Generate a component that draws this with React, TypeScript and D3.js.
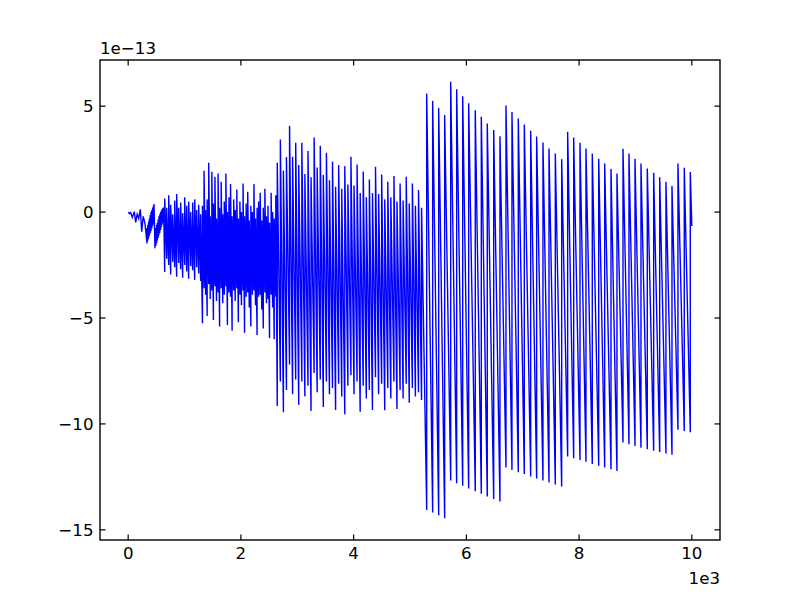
import React, { useEffect } from 'react';
import * as d3 from 'd3';

// x in units of 1e3, y in units of 1e-13
const startX = [0, 0.023, 0.044, 0.073, 0.108, 0.133, 0.160, 0.186, 0.215, 0.240, 0.266, 0.298];
const startY = [0, -0.08, -0.02, -0.25, 0.02, -0.49, -0.10, -0.30, 0.13, -0.93, -0.20, -0.53];

const region0X = [0.334, 0.348, 0.362, 0.376, 0.390, 0.405, 0.419, 0.433, 0.447, 0.458, 0.475, 0.490, 0.504, 0.518, 0.532, 0.546, 0.561, 0.575, 0.589, 0.603, 0.617, 0.630, 0.648, 0.683, 0.719, 0.754, 0.790, 0.825, 0.860, 0.896, 0.931, 0.967, 1.002, 1.038, 1.073, 1.109, 1.144, 1.180, 1.215, 1.251, 1.286];
const region0Hi = [-0.75, -0.6, -0.45, -0.3, -0.15, 0, 0.1, 0.2, 0.3, 0.38, -0.9, -0.75, -0.6, -0.5, -0.35, -0.2, -0.1, 0, 0.08, 0.15, 0.2, 0.22, 0.64, 0.2, 0.8, 0.35, -0.1, 0.55, 0.85, 0.2, 0.45, -0.05, 0.7, 0.3, 0.5, 0.0, 0.45, 0.6, 0.1, 0.35, -0.1];
const region0Lo = [-1.48, -1.35, -1.25, -1.12, -1.0, -0.9, -0.78, -0.66, -0.55, -0.45, -1.71, -1.6, -1.48, -1.35, -1.22, -1.1, -0.98, -0.85, -0.72, -0.6, -0.5, -0.4, -2.83, -2.2, -2.5, -2.95, -2.35, -2.6, -3.05, -2.4, -2.7, -3.1, -2.5, -2.8, -3.15, -2.55, -2.75, -3.2, -2.6, -2.9, -3.25];

const region1X = [1.318, 1.346, 1.374, 1.401, 1.429, 1.456, 1.484, 1.512, 1.539, 1.567, 1.595, 1.622, 1.650, 1.678, 1.705, 1.733, 1.761, 1.788, 1.816, 1.844, 1.872, 1.899, 1.927, 1.955, 1.982, 2.010, 2.038, 2.065, 2.093, 2.121, 2.148, 2.176, 2.204, 2.231, 2.259, 2.287, 2.314, 2.342, 2.370, 2.397, 2.425, 2.453, 2.480, 2.508, 2.536, 2.563, 2.591, 2.619];
const region1Hi = [0.3, 1.95, 0.1, 0.6, 2.33, -0.2, 1.9, 0.4, 1.67, -0.3, 1.82, 0.2, 1.43, -0.1, 0.5, 1.82, 0.0, 0.7, 1.32, -0.2, 0.6, 0.1, 1.07, -0.3, 0.5, 0.0, 1.35, -0.2, 0.4, 0.96, -0.4, 0.3, 0.0, 1.32, -0.3, 0.2, 0.5, 0.91, -0.4, 0.2, 1.1, -0.2, 0.3, -0.5, 0.91, 0.0, -0.3, 0.8];
const region1Lo = [-5.25, -3.6, -3.9, -4.9, -3.4, -4.1, -3.7, -5.09, -3.5, -4.2, -3.8, -5.4, -3.6, -4.3, -3.9, -3.5, -5.33, -3.8, -4.0, -5.6, -3.7, -4.2, -3.6, -5.2, -3.9, -4.4, -3.7, -5.7, -4.0, -3.8, -4.5, -5.4, -3.9, -3.7, -4.4, -5.8, -4.0, -3.9, -4.6, -5.5, -3.8, -4.3, -4.1, -5.95, -3.9, -4.5, -6.0, -4.0];

const region2X = [2.645, 2.700, 2.754, 2.808, 2.863, 2.917, 2.972, 3.026, 3.081, 3.135, 3.190, 3.244, 3.299, 3.353, 3.408, 3.462, 3.517, 3.571, 3.625, 3.680, 3.734, 3.789, 3.843, 3.898, 3.952, 4.007, 4.061, 4.116, 4.170, 4.225, 4.279, 4.334, 4.388, 4.443, 4.497, 4.552, 4.606, 4.660, 4.715, 4.769, 4.824, 4.878, 4.933, 4.987, 5.042, 5.096, 5.151, 5.205];
const region2Hi = [2.33, 3.43, 1.95, 2.6, 4.07, 2.61, 3.27, 2.22, 3.27, 1.8, 2.88, 1.64, 3.52, 2.11, 3.13, 1.75, 2.80, 1.5, 2.38, 1.2, 2.22, 1.1, 2.17, 1.3, 2.61, 1.25, 2.25, 0.9, 1.91, 0.7, 1.54, 0.9, 2.14, 0.85, 1.78, 0.6, 1.43, 0.7, 1.70, 0.5, 1.35, 0.55, 1.67, 0.4, 1.35, 0.3, 1.04, 0.2];
const region2Lo = [-9.15, -8.0, -9.45, -8.4, -7.2, -8.6, -7.9, -9.1, -8.0, -8.7, -8.2, -9.39, -7.6, -8.5, -7.9, -9.2, -8.0, -8.6, -8.3, -9.34, -8.1, -8.7, -9.54, -8.2, -7.7, -8.6, -8.0, -9.42, -8.2, -8.8, -8.4, -9.34, -7.8, -8.6, -8.1, -9.35, -8.3, -8.8, -8.0, -9.3, -8.4, -8.8, -8.1, -9.0, -8.3, -8.7, -8.5, -8.87];

const region3X = [5.296, 5.402, 5.509, 5.615, 5.722, 5.828, 5.935, 6.041, 6.158, 6.265, 6.371, 6.485, 6.596, 6.703, 6.809, 6.921, 7.028, 7.141, 7.247, 7.359, 7.466, 7.578, 7.691, 7.797, 7.904, 8.016, 8.122, 8.234, 8.348, 8.454, 8.566, 8.672, 8.779, 8.885, 8.992, 9.098, 9.210, 9.323, 9.430, 9.541, 9.648, 9.754, 9.866, 9.973];
const region3Hi = [5.60, 5.25, 4.91, 4.58, 6.15, 5.80, 5.47, 5.14, 4.81, 4.50, 4.18, 3.87, 3.58, 5.03, 4.72, 4.42, 4.14, 3.84, 3.57, 3.29, 3.00, 2.77, 2.50, 3.79, 3.52, 3.27, 3.00, 2.77, 2.52, 2.29, 2.04, 1.82, 2.99, 2.77, 2.52, 2.29, 2.06, 1.86, 1.64, 1.43, 1.23, 2.29, 2.09, 1.89];
const region3Lo = [-14.06, -14.18, -14.31, -14.45, -12.67, -12.80, -12.92, -13.05, -13.18, -13.30, -13.43, -13.55, -13.66, -12.06, -12.17, -12.28, -12.37, -12.48, -12.58, -12.67, -12.77, -12.86, -12.96, -11.54, -11.62, -11.70, -11.79, -11.89, -11.98, -12.06, -12.14, -12.22, -10.88, -10.96, -11.04, -11.12, -11.19, -11.27, -11.33, -11.40, -11.46, -10.28, -10.33, -10.39];

const endX = [10.0];
const endY = [-0.66];

const xTicks = [0, 2, 4, 6, 8, 10];
const yTicks = [-15, -10, -5, 0, 5];
const xOffsetLabel = '1e3';
const yOffsetLabel = '1e\u221213';

const fmt = (v: number) => (v < 0 ? '\u2212' + Math.abs(v) : String(v));

export default function App() {
  useEffect(() => {
    document.body.style.margin = '0';
  }, []);

  const W = 800, H = 600;
  const L = 100, R = 720, T = 60, B = 540;

  const pts: [number, number][] = [];
  startX.forEach((x, i) => pts.push([x, startY[i]]));
  const regions = [
    [region0X, region0Hi, region0Lo],
    [region1X, region1Hi, region1Lo],
    [region2X, region2Hi, region2Lo],
    [region3X, region3Hi, region3Lo],
  ];
  regions.forEach(([xs, his, los]) => {
    xs.forEach((x, i) => {
      pts.push([x, los[i]]);
      pts.push([x, his[i]]);
    });
  });
  endX.forEach((x, i) => pts.push([x, endY[i]]));

  const [xa, xb] = d3.extent(pts, (p) => p[0]) as [number, number];
  const [ya, yb] = d3.extent(pts, (p) => p[1]) as [number, number];
  const xm = (xb - xa) * 0.05;
  const ym = (yb - ya) * 0.05;
  const x = d3.scaleLinear().domain([xa - xm, xb + xm]).range([L, R]);
  const y = d3.scaleLinear().domain([ya - ym, yb + ym]).range([B, T]);

  const line = d3
    .line<[number, number]>()
    .x((p) => x(p[0]))
    .y((p) => y(p[1]));

  const tl = 5.6;
  const font = 'DejaVu Sans, sans-serif';
  const fs = 16.67;

  return (
    <svg width={W} height={H} style={{ display: 'block', background: '#fff' }}>
      <defs>
        <clipPath id="plotclip">
          <rect x={L} y={T} width={R - L} height={B - T} />
        </clipPath>
      </defs>
      <rect x={0} y={0} width={W} height={H} fill="#fff" />
      <path
        d={line(pts) || ''}
        fill="none"
        stroke="#0000ff"
        strokeWidth={1.4}
        strokeLinejoin="miter"
        clipPath="url(#plotclip)"
      />
      {xTicks.map((t) => (
        <g key={'xt' + t}>
          <line x1={x(t)} x2={x(t)} y1={B} y2={B - tl} stroke="#000" strokeWidth={1.2} />
          <line x1={x(t)} x2={x(t)} y1={T} y2={T + tl} stroke="#000" strokeWidth={1.2} />
          <text x={x(t)} y={B + 18.5} textAnchor="middle" fontFamily={font} fontSize={fs} fill="#000">
            {fmt(t)}
          </text>
        </g>
      ))}
      {yTicks.map((t) => (
        <g key={'yt' + t}>
          <line x1={L} x2={L + tl} y1={y(t)} y2={y(t)} stroke="#000" strokeWidth={1.2} />
          <line x1={R} x2={R - tl} y1={y(t)} y2={y(t)} stroke="#000" strokeWidth={1.2} />
          <text x={L - 6.5} y={y(t)} dy="0.36em" textAnchor="end" fontFamily={font} fontSize={fs} fill="#000">
            {fmt(t)}
          </text>
        </g>
      ))}
      <rect x={L} y={T} width={R - L} height={B - T} fill="none" stroke="#000" strokeWidth={1.4} />
      <text x={L} y={T - 6} textAnchor="start" fontFamily={font} fontSize={fs} fill="#000">
        {yOffsetLabel}
      </text>
      <text x={R} y={B + 44} textAnchor="end" fontFamily={font} fontSize={fs} fill="#000">
        {xOffsetLabel}
      </text>
    </svg>
  );
}
